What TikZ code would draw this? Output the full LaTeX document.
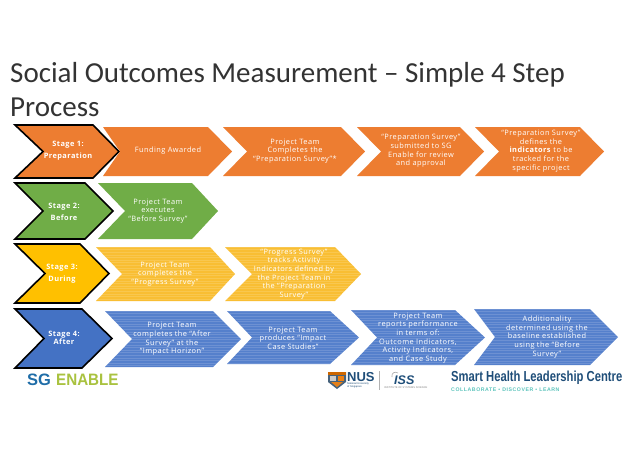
\documentclass[tikz,border=0pt]{standalone}
\usepackage{fontspec}
\setmainfont{Carlito}
\newfontfamily\bodyfont[LetterSpace=6]{Open Sans}
\newfontfamily\narrowfont{Liberation Sans}
\newfontfamily\squeezefont[FakeStretch=0.775]{Liberation Sans}
\newfontfamily\enablefont[FakeStretch=0.92]{Liberation Sans}
\newfontfamily\tagfont[LetterSpace=11]{Liberation Sans}
\definecolor{corange}{HTML}{ED7D31}
\definecolor{cgreen}{HTML}{70AD47}
\definecolor{cyellow}{HTML}{FFC000}
\definecolor{cyellowl}{HTML}{F9BE33}
\definecolor{cblue}{HTML}{4472C4}
\definecolor{cbluel}{HTML}{5580CC}
\definecolor{sglime}{HTML}{A9C23F}
\definecolor{sgblue}{HTML}{1F6DA8}
\definecolor{shblue}{HTML}{1F4E79}
\definecolor{shteal}{HTML}{5CC4BC}
\tikzset{
  x=1pt,y=-1pt,
  titletext/.style={anchor=base west,inner sep=0pt,font=\fontsize{29}{30}\selectfont,text=black!80},
  steptext/.style={align=center,text=white,inner sep=0pt,font=\bodyfont\fontsize{7.4}{8.6}\selectfont},
  stagetext/.style={align=center,text=white,inner sep=0pt,font=\bodyfont\bfseries\fontsize{7.4}{12}\selectfont},
  stagebox/.style={draw=black,line width=1.6pt,line join=miter},
  logotext/.style={anchor=base west,inner sep=0pt},
}
\newcommand{\arrowshape}[8]{%
  \path[fill=#7,#8] (#1,#5) -- (#3,#5) -- (#4,{(#5+#6)/2}) -- (#3,#6) -- (#1,#6) -- (#2,{(#5+#6)/2}) -- cycle;}
\newcommand{\stripes}[6]{%
  \begin{scope}
  \clip (#1,#5) -- (#3,#5) -- (#4,{(#5+#6)/2}) -- (#3,#6) -- (#1,#6) -- (#2,{(#5+#6)/2}) -- cycle;
  \foreach \kk in {0,...,24} \draw[white,opacity=.14,line width=.5pt] (#1,{#5+2.6*\kk}) -- (#4,{#5+2.6*\kk});
  \end{scope}}
\begin{document}
\begin{tikzpicture}
\useasboundingbox (0,0) rectangle (638,451);
\fill[white] (0,0) rectangle (638,451);
\node[titletext] (t1) at (10,82.5) {Social Outcomes Measurement – Simple 4 Step};
\node[titletext] (t2) at (10,116) {Process};
% row 1
\arrowshape{15}{43}{93}{119}{125}{178}{corange}{stagebox}
\node[stagetext] (s1) at (68,151) {Stage 1:\\Preparation};
\arrowshape{103}{120}{208}{232}{127}{176}{corange}{}
\node[steptext] (a1) at (168,151) {Funding Awarded};
\arrowshape{223}{247}{341}{365}{127}{176}{corange}{}
\node[steptext] (a2) at (295,151) {Project Team\\Completes the\\“Preparation Survey”*};
\arrowshape{357}{381}{460}{484}{127}{176}{corange}{}
\node[steptext] (a3) at (421,151) {“Preparation Survey”\\submitted to SG\\Enable for review\\and approval};
\arrowshape{475}{499}{580}{604}{127}{176}{corange}{}
\node[steptext] (a4) at (541,151) {“Preparation Survey”\\defines the\\\textbf{indicators} to be\\tracked for the\\specific project};
% row 2
\arrowshape{15}{43}{85}{113}{183}{239}{cgreen}{stagebox}
\node[stagetext] (s2) at (64,212) {Stage 2:\\Before};
\arrowshape{98}{125}{192}{218}{183}{239}{cgreen}{}
\node[steptext] (b1) at (158,211) {Project Team\\executes\\“Before Survey”};
% row 3
\arrowshape{15}{45}{80}{109}{244}{303}{cyellow}{stagebox}
\node[stagetext] (s3) at (62,274) {Stage 3:\\During};
\arrowshape{96}{122}{210}{235}{247}{301}{cyellowl}{}
\stripes{96}{122}{210}{235}{247}{301}
\node[steptext] (c1) at (165,274) {Project Team\\completes the\\“Progress Survey”};
\arrowshape{225}{252}{335}{361}{247}{301}{cyellowl}{}
\stripes{225}{252}{335}{361}{247}{301}
\node[steptext] (c2) at (294,274) {“Progress Survey”\\tracks Activity\\Indicators defined by\\the Project Team in\\the “Preparation\\Survey”};
% row 4
\arrowshape{15}{44}{82}{112}{309}{368}{cblue}{stagebox}
\node[stagetext,font=\bodyfont\bfseries\fontsize{7.4}{8}\selectfont] (s4) at (64,338) {Stage 4:\\After};
\arrowshape{105}{132}{213}{241}{311}{367}{cbluel}{}
\stripes{105}{132}{213}{241}{311}{367}
\node[steptext] (d1) at (172,339) {Project Team\\completes the “After\\Survey” at the\\“Impact Horizon”};
\arrowshape{227}{252}{330}{359}{311}{364}{cbluel}{}
\stripes{227}{252}{330}{359}{311}{364}
\node[steptext] (d2) at (293,338) {Project Team\\produces “Impact\\Case Studies”};
\arrowshape{351}{377}{455}{485}{310}{365}{cbluel}{}
\stripes{351}{377}{455}{485}{310}{365}
\node[steptext] (d3) at (418,338) {Project Team\\reports performance\\in terms of:\\Outcome Indicators,\\Activity Indicators,\\and Case Study};
\arrowshape{474}{495}{590}{618}{309}{365}{cbluel}{}
\stripes{474}{495}{590}{618}{309}{365}
\node[steptext] (d4) at (547,337) {Additionality\\determined using the\\baseline established\\using the “Before\\Survey”};
% logos
\node[logotext,font=\narrowfont\bfseries\fontsize{16.5}{16}\selectfont,text=sgblue] (l1) at (27,385) {SG};
\node[logotext,font=\enablefont\bfseries\fontsize{16.5}{16}\selectfont,text=sglime] (l2) at (56,385) {ENABLE};
% NUS crest
\fill[shblue!60!gray] (328,372) -- (346,372) -- (346,382) -- (337,389) -- (328,382) -- cycle;
\fill[orange!80!black] (328,372) rectangle (346,375);
\fill[gray!40] (330,376) rectangle (336,381);
\fill[orange!70!brown] (338,376) rectangle (344,381);
\fill[orange!60!brown] (331,382) -- (343,382) -- (337,387) -- cycle;
\node[logotext,font=\narrowfont\bfseries\fontsize{13}{13}\selectfont,text=shblue] (l3) at (347,381) {NUS};
\node[logotext,align=left,font=\narrowfont\fontsize{2.6}{3}\selectfont,text=shblue,anchor=north west] (l3b) at (347,382.5) {National University\\of Singapore};
\draw[gray!60,line width=.5pt] (379,371) -- (379,390);
\draw[gray!70,line width=.6pt] (392,377) .. controls (391,373) and (395,371) .. (398,373);
\node[logotext,font=\narrowfont\bfseries\itshape\fontsize{12.5}{13}\selectfont,text=shblue] (l4) at (394,384) {ISS};
\node[logotext,font=\narrowfont\fontsize{2.6}{3}\selectfont,text=gray,anchor=north west] (l4b) at (384,386.5) {INSTITUTE OF SYSTEMS SCIENCE};
\node[logotext,font=\squeezefont\bfseries\fontsize{14.5}{15}\selectfont,text=shblue] (l5) at (451,381) {Smart Health Leadership Centre};
\node[logotext,font=\tagfont\bfseries\fontsize{5.2}{6}\selectfont,text=shteal] (l6) at (451,391) {COLLABORATE • DISCOVER • LEARN};
\end{tikzpicture}
\end{document}
